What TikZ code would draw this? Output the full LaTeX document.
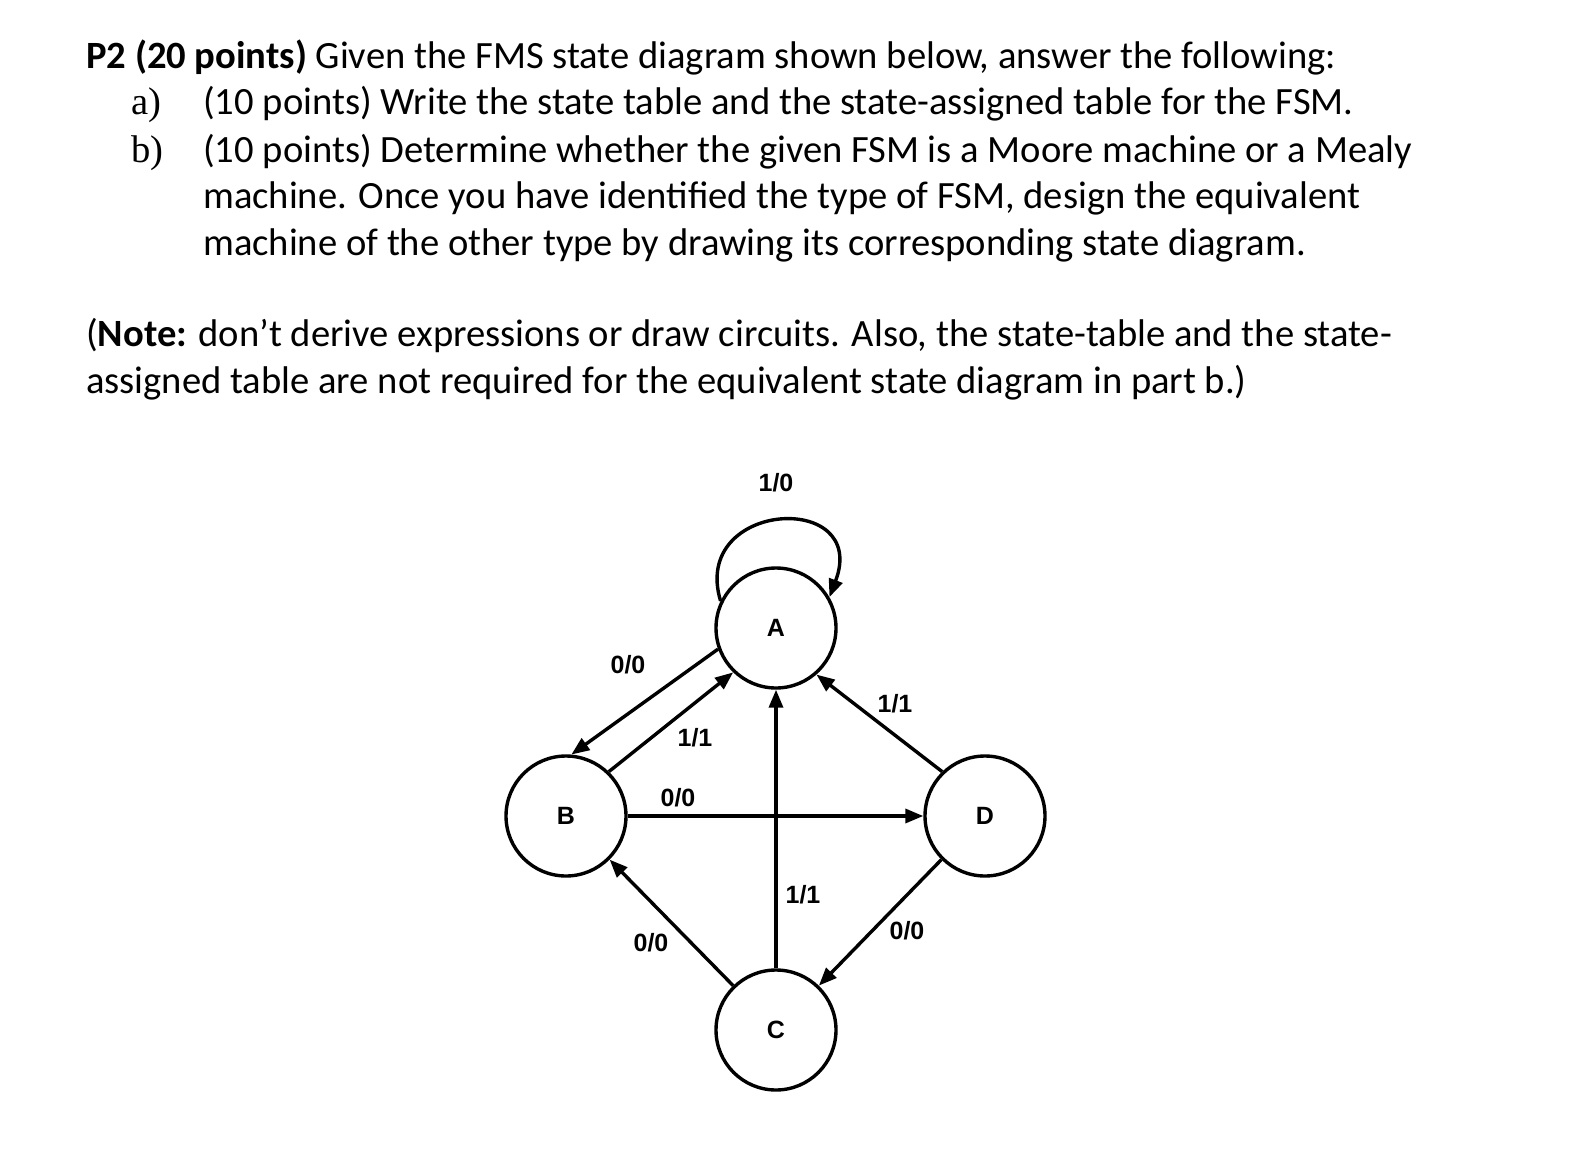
\documentclass[tikz,border=0pt]{standalone}
\usepackage{fontspec}
\setmainfont{Carlito}
\newfontfamily\lblfont{Liberation Sans}
\newfontfamily\serfont{Liberation Serif}
\usetikzlibrary{arrows.meta}
\begin{document}
\begin{tikzpicture}[x=1pt,y=-1pt,
  txt/.style={anchor=base west,inner sep=0pt,font=\fontsize{38.6}{44}\selectfont},
  st/.style={circle,draw,line width=3.4pt,minimum size=120pt,inner sep=0pt,font=\lblfont\bfseries\fontsize{25}{28}\selectfont},
  lbl/.style={font=\lblfont\bfseries\fontsize{25}{28}\selectfont,inner sep=1pt},
  tr/.style={line width=3.4pt,-{Triangle[length=18pt,width=14pt]}}]
\useasboundingbox (0,0) rectangle (1575,1170);
\node[txt] (t1) at (86,68) {\textbf{P2 (20 points)} Given the FMS state diagram shown below, answer the following:};
\node[txt] (t2a) at (131,114) {\serfont a)};
\node[txt] (t2) at (203,114) {(10 points) Write the state table and the state-assigned table for the FSM.};
\node[txt] (t3a) at (131,162) {\serfont b)};
\node[txt] (t3) at (203,162) {(10 points) Determine whether the given FSM is a Moore machine or a Mealy};
\node[txt] (t4) at (203,208) {machine. Once you have identified the type of FSM, design the equivalent};
\node[txt] (t5) at (203,255) {machine of the other type by drawing its corresponding state diagram.};
\node[txt] (n1) at (86,346) {(\textbf{Note:} don’t derive expressions or draw circuits. Also, the state-table and the state-};
\node[txt] (n2) at (86,393) {assigned table are not required for the equivalent state diagram in part b.)};
\node[st] (A) at (776,628) {A};
\node[st] (B) at (566,816) {B};
\node[st] (D) at (985,816) {D};
\node[st] (C) at (776,1030) {C};
\draw[tr] (A.154) .. controls (690,500) and (870,490) .. (A.30);
\draw[tr] (A.200) -- (B.85);
\draw[tr] (B.46) -- (A.226);
\draw[tr] (B.east) -- (D.west);
\draw[tr] (C.north) -- (A.south);
\draw[tr] (D.134) -- (A.311);
\draw[tr] (C.134) -- (B.-45);
\draw[tr] (D.225) -- (C.46);
\node[lbl] (l1) at (776,483) {1/0};
\node[lbl] (l2) at (628,665) {0/0};
\node[lbl] (l3) at (695,738) {1/1};
\node[lbl] (l4) at (678,798) {0/0};
\node[lbl] (l5) at (803,895) {1/1};
\node[lbl] (l6) at (895,704) {1/1};
\node[lbl] (l7) at (651,943) {0/0};
\node[lbl] (l8) at (907,931) {0/0};
\end{tikzpicture}
\end{document}
